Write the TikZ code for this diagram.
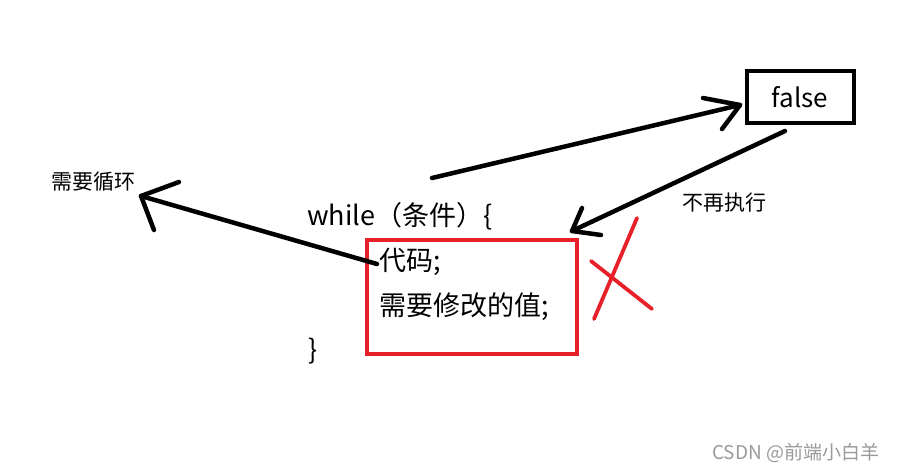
\documentclass[tikz,border=0pt]{standalone}
\usepackage{fontspec}
\setmainfont{Noto Sans CJK SC}
\definecolor{redx}{HTML}{E8202A}
\definecolor{wm}{HTML}{9A9A9A}
\tikzset{
  hand/.style={line width=4.5pt, line cap=round, line join=round, black},
  lbl/.style={inner sep=0pt, anchor=west, font=\fontsize{21}{21}\selectfont},
  code/.style={inner sep=0pt, anchor=west, font=\fontsize{27}{27}\selectfont},
}
\begin{document}
\begin{tikzpicture}[x=1pt,y=-1pt]
\useasboundingbox[fill=white] (0,0) rectangle (899,472);
% false box
\node[draw, line width=4pt, minimum width=107pt, minimum height=52pt, inner sep=0pt,
      font=\fontsize{26}{26}\selectfont] (false) at (800,97) {false};
% texts
\node[lbl] (loop) at (51,182) {需要循环};
\node[code] (while) at (307,216) {while（条件）\{};
\node[code] (c1) at (379,262) {代码;};
\node[code] (c2) at (379,307) {需要修改的值;};
\node[code] (close) at (308,351) {\}};
\node[lbl] (stop) at (682,203) {不再执行};
\node[inner sep=0pt, anchor=west, text=wm, font=\fontsize{19}{19}\selectfont] (wmk) at (712,453) {CSDN @前端小白羊};
% red box
\node[draw=redx, line width=4pt, minimum width=210pt, minimum height=114pt, inner sep=0pt] (body) at (472,297) {};
% red cross
\coordinate (xa1) at (637,218); \coordinate (xa2) at (594,319);
\coordinate (xb1) at (591,261); \coordinate (xb2) at (652,309);
\draw[redx, line width=3.8pt, line cap=round] (xa1) -- (xa2);
\draw[redx, line width=3.8pt, line cap=round] (xb1) -- (xb2);
% arrow to false
\coordinate (a1s) at (432,178); \coordinate (a1t) at (740,105);
\coordinate (a1b) at (703,98); \coordinate (a1c) at (722,129);
\draw[hand] (a1s) -- (a1t);
\draw[hand] (a1b) -- (a1t) -- (a1c);
% arrow from false back
\coordinate (a2s) at (785,131); \coordinate (a2t) at (572,231);
\coordinate (a2b) at (582,208); \coordinate (a2c) at (601,235);
\draw[hand] (a2s) -- (a2t);
\draw[hand] (a2b) -- (a2t) -- (a2c);
% arrow to loop label
\coordinate (a3s) at (377,264); \coordinate (a3t) at (141,196);
\coordinate (a3b) at (179,182); \coordinate (a3c) at (154,230);
\draw[hand] (a3s) -- (a3t);
\draw[hand] (a3b) -- (a3t) -- (a3c);
\end{tikzpicture}
\end{document}
